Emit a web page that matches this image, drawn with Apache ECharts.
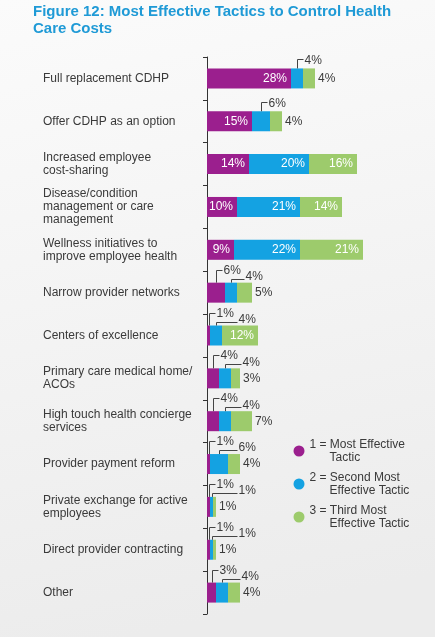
<!DOCTYPE html>
<html><head><meta charset="utf-8">
<script src="https://cdn.jsdelivr.net/npm/echarts@6/dist/echarts.min.js"></script>
<style>html,body{margin:0;padding:0;background:#f4f4f4;}#c{width:435px;height:637px;}</style>
</head><body><div id="c"></div>
<script>
const titleText = 'Figure 12: Most Effective Tactics to Control Health\nCare Costs';
const categories = [
  'Full replacement CDHP',
  'Offer CDHP as an option',
  'Increased employee\ncost-sharing',
  'Disease/condition\nmanagement or care\nmanagement',
  'Wellness initiatives to\nimprove employee health',
  'Narrow provider networks',
  'Centers of excellence',
  'Primary care medical home/\nACOs',
  'High touch health concierge\nservices',
  'Provider payment reform',
  'Private exchange for active\nemployees',
  'Direct provider contracting',
  'Other'
];
const mostEffective = [28, 15, 14, 10, 9, 6, 1, 4, 4, 1, 1, 1, 3];
const secondMost    = [4, 6, 20, 21, 22, 4, 4, 4, 4, 6, 1, 1, 4];
const thirdMost     = [4, 4, 16, 14, 21, 5, 12, 3, 7, 4, 1, 1, 4];
const seriesNames = [
  '1 = Most Effective\n      Tactic',
  '2 = Second Most\n      Effective Tactic',
  '3 = Third Most\n      Effective Tactic'
];

const FONT = '"Liberation Sans", Arial, Helvetica, sans-serif';
const colors = ['#9b1f8e', '#14a2e2', '#9dcb6c'];
const insideMin = [9, 20, 12];
const valueSets = [mostEffective, secondMost, thirdMost];
const TEXT = '#3a3a3a';

const barSeries = valueSets.map((vals, k) => ({
  name: seriesNames[k],
  type: 'bar',
  stack: 'tactic',
  barWidth: 20,
  itemStyle: { color: colors[k] },
  label: {
    show: true, position: 'insideRight', distance: 4,
    color: '#fff', fontSize: 12, fontFamily: FONT,
    formatter: p => (p.value >= insideMin[k] ? p.value + '%' : '')
  },
  data: vals,
  z: 2
}));

const calloutSeries = {
  type: 'custom',
  silent: true,
  z: 5,
  clip: false,
  data: categories.map((c, i) => [0, i]),
  encode: { x: 0, y: 1 },
  renderItem(params, api) {
    const i = params.dataIndex;
    const p = mostEffective[i], b = secondMost[i], g = thirdMost[i];
    const yc = api.coord([0, i])[1];
    const top = yc - 10;
    const kids = [];
    const ls = { stroke: '#444', lineWidth: 1, fill: null };
    const txt = (t, x, y) => ({
      type: 'text',
      style: { text: t, x, y, align: 'left', verticalAlign: 'middle', fill: TEXT, font: '12px ' + FONT }
    });
    let pLabelX = null;
    if (p < insideMin[0]) {
      const cx = Math.round(api.coord([p / 2, i])[0]) + 0.5;
      const ly = Math.round(top - 13) + 0.5;
      const lx = cx + 7;
      kids.push({ type: 'polyline', shape: { points: [[cx, top], [cx, ly], [lx - 1, ly]] }, style: ls });
      kids.push(txt(p + '%', lx, ly));
      pLabelX = lx;
    }
    if (b < insideMin[1]) {
      const cx = Math.round(api.coord([p + b / 2, i])[0]) + 0.5;
      let lineY, textY, lx;
      if (pLabelX !== null) {
        lineY = Math.round(top - 4) + 0.5; textY = top - 6;
        lx = Math.max(cx + 7, pLabelX + 22);
      } else {
        lineY = Math.round(top - 9) + 0.5; textY = top - 8;
        lx = cx + 7;
      }
      kids.push({ type: 'polyline', shape: { points: [[cx, top], [cx, lineY], [lx - 1, lineY]] }, style: ls });
      kids.push(txt(b + '%', lx, textY));
    }
    if (g < insideMin[2]) {
      const ex = api.coord([p + b + g, i])[0];
      kids.push(txt(g + '%', ex + 3, yc));
    }
    return { type: 'group', children: kids };
  }
};

const chart = echarts.init(document.getElementById('c'));
chart.setOption({
  animation: false,
  backgroundColor: {
    type: 'linear', x: 0, y: 0, x2: 0.3, y2: 1,
    colorStops: [{ offset: 0, color: '#fbfbfb' }, { offset: 1, color: '#ececec' }]
  },
  textStyle: { fontFamily: FONT },
  title: {
    text: titleText, left: 33, top: 3, padding: 0,
    textStyle: { fontSize: 15, fontWeight: 'bold', color: '#1f9ad6', lineHeight: 17, fontFamily: FONT }
  },
  legend: {
    data: seriesNames,
    orient: 'vertical',
    left: 293.5, top: 431.5, padding: 0,
    icon: 'circle', itemWidth: 11, itemHeight: 11, itemGap: -6,
    selectedMode: false,
    textStyle: { fontSize: 12, color: TEXT, lineHeight: 13, padding: [13, 0, 0, 0], fontFamily: FONT }
  },
  grid: { left: 207, right: 18, top: 57, bottom: 23, containLabel: false, outerBoundsMode: 'none' },
  xAxis: { type: 'value', min: 0, max: 70, show: false },
  yAxis: {
    type: 'category', data: categories, inverse: true,
    axisLine: { lineStyle: { color: '#333', width: 1 } },
    axisTick: { show: true, length: 4, lineStyle: { color: '#333' } },
    axisLabel: { align: 'left', margin: 164, color: TEXT, fontSize: 12, lineHeight: 13, fontFamily: FONT }
  },
  series: [...barSeries, calloutSeries]
});
</script>
</body></html>
